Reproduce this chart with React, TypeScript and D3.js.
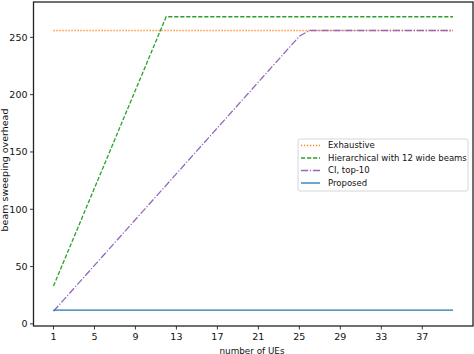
import React from 'react';
import { scaleLinear, line } from 'd3';

// breakpoints of each curve (number of UEs -> overhead)
const ueX = [1, 40];
const exhaustiveY = [256, 256];

const hierX = [1, 12, 40];
const hierY = [33, 268, 268];

const ciX = [1, 25, 26, 40];
const ciY = [11, 251, 256, 256];

const proposedX = [1, 40];
const proposedY = [12, 12];

const xTicks = [1, 5, 9, 13, 17, 21, 25, 29, 33, 37];
const yTicks = [0, 50, 100, 150, 200, 250];

const series = [
  { name: 'Exhaustive', xs: ueX, ys: exhaustiveY, color: '#ff7f0e', dash: '1.2,1.8' },
  { name: 'Hierarchical with 12 wide beams', xs: hierX, ys: hierY, color: '#2ca02c', dash: '4.2,1.8' },
  { name: 'CI, top-10', xs: ciX, ys: ciY, color: '#9467bd', dash: '7.1,1.8,1.2,1.8' },
  { name: 'Proposed', xs: proposedX, ys: proposedY, color: '#1f77b4', dash: null },
];

const W = 474;
const H = 354;
const left = 33.5;
const right = 473;
const top = 2;
const bottom = 326;
const font = 'DejaVu Sans, sans-serif';

export default function App() {
  const x = scaleLinear().domain([-0.95, 41.95]).range([left, right]);
  const y = scaleLinear().domain([-1.85, 280.85]).range([bottom, top]);

  const path = line<[number, number]>()
    .x((d) => x(d[0]))
    .y((d) => y(d[1]));

  const legX = 298;
  const legY = 139;
  const rowH = 12.5;

  return (
    <svg
      width={W}
      height={H}
      style={{ position: 'absolute', left: 0, top: 0, background: '#fff' }}
      fontFamily={font}
    >
      {/* curves */}
      {series.map((s) => (
        <path
          key={s.name}
          d={path(s.xs.map((v, i) => [v, s.ys[i]] as [number, number])) || ''}
          fill="none"
          stroke={s.color}
          strokeWidth={1.3}
          strokeDasharray={s.dash || undefined}
        />
      ))}

      {/* frame */}
      <rect
        x={left}
        y={top}
        width={right - left}
        height={bottom - top}
        fill="none"
        stroke="#222"
        strokeWidth={1.3}
      />

      {/* x axis */}
      {xTicks.map((t) => (
        <g key={'x' + t} transform={`translate(${x(t)},${bottom})`}>
          <line y2={3.5} stroke="#222" strokeWidth={0.9} />
          <text y={13.5} textAnchor="middle" fontSize={9.5} fill="#111">
            {t}
          </text>
        </g>
      ))}
      <text x={252} y={353.5} textAnchor="middle" fontSize={8.8} fill="#111">
        number of UEs
      </text>

      {/* y axis */}
      {yTicks.map((t) => (
        <g key={'y' + t} transform={`translate(${left},${y(t)})`}>
          <line x2={-3.5} stroke="#222" strokeWidth={0.9} />
          <text x={-6} dy="0.35em" textAnchor="end" fontSize={9.5} fill="#111">
            {t}
          </text>
        </g>
      ))}
      <text
        transform={`translate(7.5,170) rotate(-90)`}
        textAnchor="middle"
        fontSize={9.5}
        fill="#111"
      >
        beam sweeping overhead
      </text>

      {/* legend */}
      <rect
        x={legX}
        y={legY}
        width={170}
        height={52}
        rx={2}
        fill="#fff"
        fillOpacity={0.8}
        stroke="#ccc"
        strokeWidth={0.8}
      />
      {series.map((s, i) => (
        <g key={'leg' + s.name} transform={`translate(${legX + 3},${legY + 6.5 + i * rowH})`}>
          <line
            x1={0}
            x2={19}
            stroke={s.color}
            strokeWidth={1.3}
            strokeDasharray={s.dash || undefined}
          />
          <text x={27} dy="0.35em" fontSize={8.5} fill="#111">
            {s.name}
          </text>
        </g>
      ))}
    </svg>
  );
}
